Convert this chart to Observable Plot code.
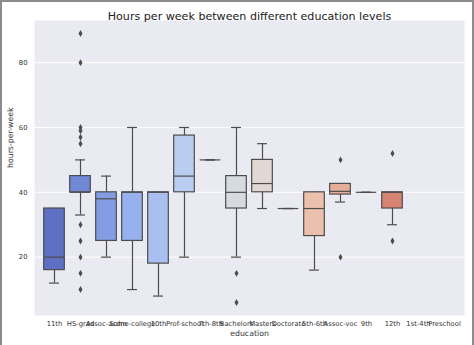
<!DOCTYPE html>
<html>
<head>
<meta charset="utf-8">
<script src="https://cdn.jsdelivr.net/npm/d3@7"></script>
<script src="https://cdn.jsdelivr.net/npm/@observablehq/plot@0.6"></script>
<style>
  html, body { margin: 0; padding: 0; background: #ffffff; }
  #wrap { position: relative; width: 474px; height: 345px; overflow: hidden; }
  #frame { position: absolute; left: 0; top: 0; width: 474px; height: 345px; box-sizing: border-box;
           border: 2px solid #8c8c8c; border-bottom: none; pointer-events: none; }
  svg { display: block; }
</style>
</head>
<body>
<div id="wrap"><div id="frame"></div></div>
<script>
// ---- data ----
const education = ["11th", "HS-grad", "Assoc-acdm", "Some-college", "10th", "Prof-school", "7th-8th",
  "Bachelors", "Masters", "Doctorate", "5th-6th", "Assoc-voc", "9th", "12th", "1st-4th", "Preschool"];
const q1          = [16, 40, 25, 25, 18, 40, 50, 35, 40, 35, 26.5, 39.3, 40, 35, null, null];
const median      = [20, 40, 38, 40, 40, 45, 50, 40, 42.7, 35, 35, 40.3, 40, 40, null, null];
const q3          = [35, 45, 40, 40, 40, 57.5, 50, 45, 50, 35, 40, 42.6, 40, 40, null, null];
const whiskerLow  = [12, 33, 20, 10, 8, 20, 50, 20, 35, 35, 16, 37, 40, 30, null, null];
const whiskerHigh = [35, 50, 45, 60, 40, 60, 50, 60, 55, 35, 40, 42.6, 40, 40, null, null];
const outlierEducation = ["HS-grad", "HS-grad", "HS-grad", "HS-grad", "HS-grad", "HS-grad",
  "HS-grad", "HS-grad", "HS-grad", "HS-grad", "HS-grad",
  "Bachelors", "Bachelors", "Assoc-voc", "Assoc-voc", "12th", "12th"];
const outlierHours = [89, 80, 60, 59, 57, 55, 30, 25, 20, 15, 10, 15, 6, 50, 20, 52, 25];
const yTicks = [20, 40, 60, 80];
const titleText = ["Hours per week between different education levels"];

// ---- tables built from the arrays ----
const boxes = education.map((e, i) => ({
  education: e, q1: q1[i], median: median[i], q3: q3[i], lo: whiskerLow[i], hi: whiskerHigh[i]
})).filter(d => d.median != null);
const outliers = outlierEducation.map((e, i) => ({education: e, hours: outlierHours[i]}));

// coolwarm palette (16 samples), desaturated like seaborn boxplot (saturation .75)
const coolwarm = d3.piecewise(d3.interpolateRgb, [
  "rgb(59,76,192)", "rgb(98,130,234)", "rgb(141,176,254)", "rgb(184,208,249)", "rgb(221,221,221)",
  "rgb(245,196,173)", "rgb(244,154,123)", "rgb(222,96,77)", "rgb(180,4,38)"]);
const palette = education.map((e, i) => {
  const c = d3.hsl(coolwarm((i + 1) / (education.length + 1)));
  c.s *= 0.75;
  return c.formatHex();
});
const lineGray = "#4d4d4d";

const W = 474, H = 345;
const bw = (W - 34 - 10) / education.length;

const chart = Plot.plot({
  width: W,
  height: H,
  marginLeft: 34,
  marginRight: 10,
  marginTop: 20,
  marginBottom: 30,
  style: {fontFamily: "DejaVu Sans", background: "transparent", color: "#333"},
  x: {domain: education, padding: 0, label: null},
  y: {domain: [2, 93], label: null},
  color: {domain: education, range: palette},
  marks: [
    Plot.frame({fill: "#eaeaf2", stroke: null}),
    Plot.gridY(yTicks, {stroke: "#ffffff", strokeOpacity: 1, strokeWidth: 1}),
    Plot.axisY(yTicks, {tickSize: 0, tickPadding: 7, fontSize: 6.8, fill: "#333", label: null}),
    Plot.axisX({tickSize: 0, tickPadding: 6, fontSize: 6.8, fill: "#333", label: null}),
    Plot.text(["hours-per-week"], {frameAnchor: "left", dx: -24, rotate: -90, fontSize: 7.8, fill: "#333"}),
    Plot.text(["education"], {frameAnchor: "bottom", dy: 20, fontSize: 7.8, fill: "#333"}),
    Plot.text(titleText, {frameAnchor: "top", dy: -8, fontSize: 11.1, fill: "#222"}),
    // whiskers
    Plot.ruleX(boxes, {x: "education", y1: "lo", y2: "q1", stroke: lineGray, strokeWidth: 1.2}),
    Plot.ruleX(boxes, {x: "education", y1: "q3", y2: "hi", stroke: lineGray, strokeWidth: 1.2}),
    Plot.tickY(boxes, {x: "education", y: "lo", stroke: lineGray, strokeWidth: 1.2, insetLeft: bw * 0.3, insetRight: bw * 0.3}),
    Plot.tickY(boxes, {x: "education", y: "hi", stroke: lineGray, strokeWidth: 1.2, insetLeft: bw * 0.3, insetRight: bw * 0.3}),
    // boxes
    Plot.barY(boxes, {x: "education", y1: "q1", y2: "q3", fill: "education", stroke: lineGray, strokeWidth: 1.2,
      insetLeft: bw * 0.1, insetRight: bw * 0.1}),
    // medians
    Plot.tickY(boxes, {x: "education", y: "median", stroke: lineGray, strokeWidth: 1.2, insetLeft: bw * 0.1, insetRight: bw * 0.1}),
    // outliers
    Plot.dot(outliers, {x: "education", y: "hours", symbol: "diamond", r: 2.1, fill: lineGray, stroke: null})
  ]
});
document.getElementById("wrap").prepend(chart);
</script>
</body>
</html>
